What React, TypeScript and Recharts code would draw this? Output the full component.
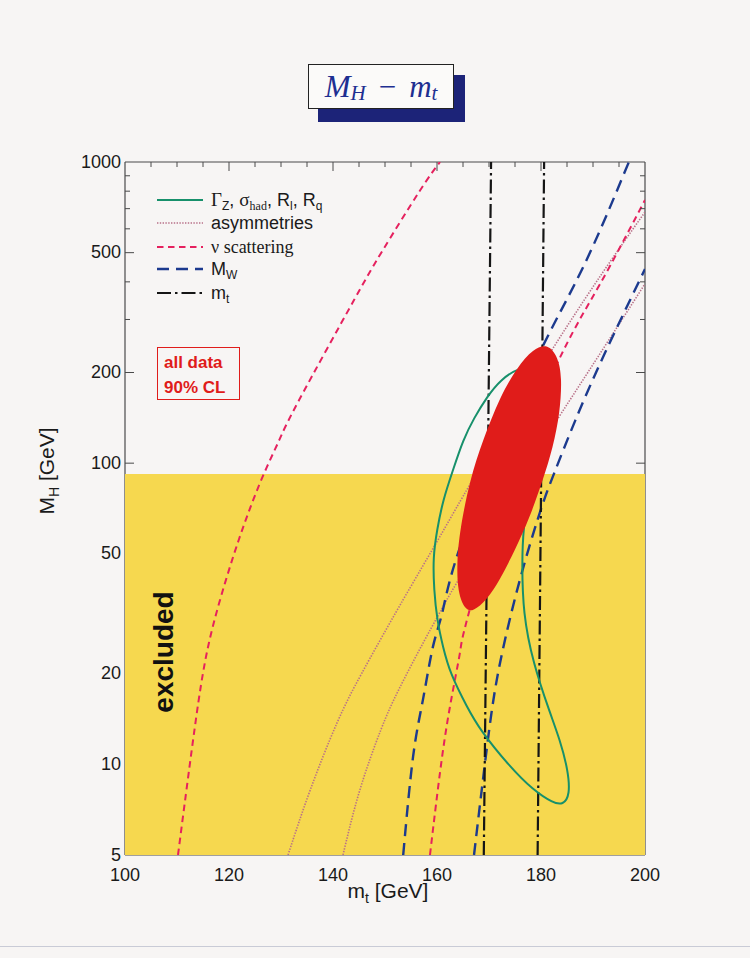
import React from 'react';
import { ScatterChart, Scatter, XAxis, YAxis } from 'recharts';

// ---------- axes ----------
const MT_DOMAIN = [100, 200];
const MH_DOMAIN = [5, 1000];
const X_TICKS = [100, 105, 110, 115, 120, 125, 130, 135, 140, 145, 150, 155, 160, 165, 170, 175, 180, 185, 190, 195, 200];
const X_LABELS = [100, 120, 140, 160, 180, 200];
const Y_TICKS = [5, 10, 20, 50, 100, 200, 300, 400, 500, 600, 700, 800, 900, 1000];
const Y_LABELS = [5, 10, 20, 50, 100, 200, 500, 1000];

// ---------- excluded region (direct search limit) ----------
const LEP_LIMIT = 92;
const EXCL_MT = [100, 200, 200, 100];
const EXCL_MH = [5, 5, LEP_LIMIT, LEP_LIMIT];

// ---------- Gamma_Z, sigma_had, R_l, R_q (closed contour) ----------
const GZ_MT = [175.96, 172.12, 169.62, 167.12, 165.0, 163.08, 161.15, 160.0, 159.23, 159.42, 160.0, 161.15, 162.5, 165.77, 168.27, 174.04, 178.46, 182.31, 184.23, 185.58, 185.19, 183.65, 181.73, 178.46, 176.54, 176.35, 176.54, 177.88, 179.42, 179.81, 178.46];
const GZ_MH = [208.6, 188.9, 165.9, 141.3, 119.4, 94.9, 75.5, 60.0, 48.8, 37.9, 30.2, 24.5, 20.1, 15.5, 13.0, 9.8, 8.22, 7.44, 7.33, 7.91, 9.58, 12.05, 14.8, 21.7, 31.8, 46.6, 60.0, 88, 139, 182, 207];

// ---------- asymmetries ----------
const ASYM1_MT = [131.35, 135.6, 140.75, 145.56, 152.02, 157.15, 161.62, 166.52, 174.94, 183.29, 191.92, 200];
const ASYM1_MH = [5, 8.2, 13.7, 20.1, 31.8, 45.2, 61.4, 86, 150, 256, 431, 682];
const ASYM2_MT = [141.92, 145.15, 149.19, 152.65, 157.65, 161.58, 163.77, 173.35, 183.29, 190.92, 200];
const ASYM2_MH = [5, 8.2, 13.0, 17.7, 25.9, 34.4, 40.0, 75.5, 141, 225, 394];

// ---------- nu scattering ----------
const NU1_MT = [110.19, 113.08, 115.0, 116.87, 119.4, 121.87, 124.15, 126.77, 129.63, 133.48, 144.04, 149.62, 156.54, 160.58];
const NU1_MH = [5, 12.0, 20.1, 28.6, 40.9, 55.6, 71.6, 92.7, 119, 162, 348, 511, 795, 1000];
const NU2_MT = [158.65, 160.58, 162.48, 164.4, 165.92, 173.83, 184.17, 191.27, 200];
const NU2_MH = [5, 9.4, 15.5, 23.4, 30.9, 88, 234, 391, 748];

// ---------- M_W ----------
const MW1_MT = [153.5, 155.4, 157.3, 159.2, 161.0, 163.8, 171.2, 179.8, 188.3, 196.9];
const MW1_MH = [5, 10.6, 16.4, 24.5, 31.8, 48.8, 106, 234, 455, 1000];
const MW2_MT = [167.12, 167.69, 169.85, 172.12, 175.94, 179.98, 182.54, 186.62, 192.29, 200];
const MW2_MH = [5, 6.06, 12.3, 21.7, 41.0, 70.2, 92.7, 139, 232, 441];

// ---------- m_t ----------
const TOP1_MT = [169.0, 170.4];
const TOP1_MH = [5, 1000];
const TOP2_MT = [179.35, 180.6];
const TOP2_MH = [5, 1000];

// ---------- all data 90% CL ----------
const ALL_MT = [181.35, 183.27, 184.04, 183.65, 182.31, 180.38, 177.88, 175.0, 172.1, 169.6, 166.9, 165.4, 164.0, 163.8, 164.4, 166.3, 168.8, 172.1, 175.4, 178.5];
const ALL_MH = [249, 225, 193, 147, 113, 88, 66.3, 51.5, 41.0, 35.2, 32.1, 32.6, 37.1, 46.7, 60.0, 88, 119, 166, 208, 240];

// ---------- styling ----------
const FONT_SANS = '"Liberation Sans", Arial, Helvetica, sans-serif';
const FONT_SERIF = '"Liberation Serif", "Times New Roman", serif';
const C = {
  bg: '#f7f5f4',
  excluded: '#f6d84f',
  green: '#17906b',
  asym: '#b87088',
  nu: '#e5215e',
  mw: '#1c3a8e',
  mt: '#151515',
  all: '#e01c1a',
  axis: '#4a4a4a',
  text: '#1a1a1a',
  title: '#1e2f91',
  shadow: '#1c2378',
};

const STYLE_GZ = { stroke: C.green, strokeWidth: 2, fill: 'none' };
const STYLE_ASYM = { stroke: C.asym, strokeWidth: 1.6, strokeDasharray: '1.4 1.4', fill: 'none' };
const STYLE_NU = { stroke: C.nu, strokeWidth: 2, strokeDasharray: '6.5 4.5', fill: 'none' };
const STYLE_MW = { stroke: C.mw, strokeWidth: 2.4, strokeDasharray: '12 7', fill: 'none' };
const STYLE_MT = { stroke: C.mt, strokeWidth: 2.2, strokeDasharray: '14 4 2.5 4', fill: 'none' };

const toPoints = (mt: number[], mh: number[]) => mt.map((v, i) => ({ mt: v, mh: mh[i] }));

const NoDot = () => <g />;

function TopTick(props: any) {
  const { x, y, payload } = props;
  const v = payload.value;
  if (v <= MT_DOMAIN[0] || v >= MT_DOMAIN[1]) return <g />;
  const len = X_LABELS.includes(v) ? 9 : 5;
  return <line x1={x} x2={x} y1={y} y2={y + len} stroke={C.axis} strokeWidth={1} />;
}

function BottomTick(props: any) {
  const { x, y, payload } = props;
  const v = payload.value;
  if (!X_LABELS.includes(v)) return <g />;
  return (
    <text x={x} y={y + 26} textAnchor="middle" fontSize={18} fontFamily={FONT_SANS} fill={C.text}>
      {v}
    </text>
  );
}

function LeftTick(props: any) {
  const { x, y, payload } = props;
  const v = payload.value;
  const major = Y_LABELS.includes(v);
  const mark = v > LEP_LIMIT && v < MH_DOMAIN[1];
  return (
    <g>
      {mark && <line x1={x} x2={x + (major ? 9 : 5)} y1={y} y2={y} stroke={C.axis} strokeWidth={1} />}
      {major && (
        <text x={x - 4} y={y + 5.5} textAnchor="end" fontSize={18} fontFamily={FONT_SANS} fill={C.text}>
          {v}
        </text>
      )}
    </g>
  );
}

function RightTick(props: any) {
  const { x, y, payload } = props;
  const v = payload.value;
  const major = Y_LABELS.includes(v);
  const mark = v > LEP_LIMIT && v < MH_DOMAIN[1];
  if (!mark) return <g />;
  return <line x1={x} x2={x - (major ? 9 : 5)} y1={y} y2={y} stroke={C.axis} strokeWidth={1} />;
}

const SERIES = [
  { key: 'excl', data: toPoints(EXCL_MT, EXCL_MH), line: { stroke: 'none', fill: C.excluded }, joint: 'linearClosed' },
  { key: 'asym1', data: toPoints(ASYM1_MT, ASYM1_MH), line: STYLE_ASYM, joint: 'natural' },
  { key: 'asym2', data: toPoints(ASYM2_MT, ASYM2_MH), line: STYLE_ASYM, joint: 'natural' },
  { key: 'nu1', data: toPoints(NU1_MT, NU1_MH), line: STYLE_NU, joint: 'natural' },
  { key: 'nu2', data: toPoints(NU2_MT, NU2_MH), line: STYLE_NU, joint: 'natural' },
  { key: 'mw1', data: toPoints(MW1_MT, MW1_MH), line: STYLE_MW, joint: 'natural' },
  { key: 'mw2', data: toPoints(MW2_MT, MW2_MH), line: STYLE_MW, joint: 'natural' },
  { key: 'top1', data: toPoints(TOP1_MT, TOP1_MH), line: STYLE_MT, joint: 'linear' },
  { key: 'top2', data: toPoints(TOP2_MT, TOP2_MH), line: STYLE_MT, joint: 'linear' },
  { key: 'gz', data: toPoints(GZ_MT, GZ_MH), line: STYLE_GZ, joint: 'basisClosed' },
  { key: 'all', data: toPoints(ALL_MT, ALL_MH), line: { stroke: 'none', fill: C.all }, joint: 'basisClosed' },
];

const LEGEND = [
  { key: 'gz', style: STYLE_GZ, top: 200 },
  { key: 'asym', style: STYLE_ASYM, top: 223 },
  { key: 'nu', style: STYLE_NU, top: 247 },
  { key: 'mw', style: STYLE_MW, top: 269 },
  { key: 'mt', style: STYLE_MT, top: 293 },
];

const subStyle: React.CSSProperties = { fontSize: 12, verticalAlign: '-4px', lineHeight: 0 };

function legendLabel(key: string) {
  switch (key) {
    case 'gz':
      return (
        <span>
          <span style={{ fontFamily: FONT_SERIF, fontSize: 19 }}>Γ</span>
          <span style={subStyle}>Z</span>,{' '}
          <span style={{ fontFamily: FONT_SERIF, fontSize: 19 }}>σ</span>
          <span style={{ ...subStyle, fontFamily: FONT_SERIF }}>had</span>, R<span style={subStyle}>l</span>, R
          <span style={subStyle}>q</span>
        </span>
      );
    case 'asym':
      return <span>asymmetries</span>;
    case 'nu':
      return <span style={{ fontFamily: FONT_SERIF, fontSize: 18 }}>ν scattering</span>;
    case 'mw':
      return (
        <span>
          M<span style={subStyle}>W</span>
        </span>
      );
    default:
      return (
        <span>
          m<span style={subStyle}>t</span>
        </span>
      );
  }
}

export default function App() {
  return (
    <div
      style={{
        position: 'absolute',
        left: 0,
        top: 0,
        width: 750,
        height: 958,
        background: C.bg,
        overflow: 'hidden',
        fontFamily: FONT_SANS,
        color: C.text,
      }}
    >
      {/* title */}
      <div style={{ position: 'absolute', left: 318, top: 75, width: 147, height: 47, background: C.shadow }} />
      <div
        style={{
          position: 'absolute',
          left: 308,
          top: 64,
          width: 144,
          height: 43,
          border: '1.5px solid #222',
          background: '#fbfaf9',
          display: 'flex',
          alignItems: 'center',
          justifyContent: 'center',
          fontFamily: FONT_SERIF,
          fontSize: 31,
          color: C.title,
          whiteSpace: 'nowrap',
        }}
      >
        <span style={{ fontStyle: 'italic' }}>M</span>
        <span style={{ fontStyle: 'italic', fontSize: 21, position: 'relative', top: 7 }}>H</span>
        <span style={{ margin: '0 13px' }}>−</span>
        <span style={{ fontStyle: 'italic' }}>m</span>
        <span style={{ fontStyle: 'italic', fontSize: 21, position: 'relative', top: 7 }}>t</span>
      </div>

      <div style={{ position: 'absolute', left: 0, top: 0 }}>
        <ScatterChart width={750} height={958} margin={{ top: 152, right: 95, bottom: 63, left: 65 }}>
          {SERIES.map((s) => (
            <Scatter
              key={s.key}
              data={s.data}
              line={s.line}
              lineType="joint"
              lineJointType={s.joint as any}
              shape={NoDot}
              isAnimationActive={false}
              legendType="none"
            />
          ))}
          <XAxis
            dataKey="mt"
            type="number"
            domain={MT_DOMAIN}
            ticks={X_TICKS}
            interval={0}
            allowDataOverflow
            height={40}
            tickSize={0}
            tickMargin={0}
            tickLine={false}
            axisLine={{ stroke: C.axis, strokeWidth: 1.2 }}
            tick={<BottomTick />}
          />
          <XAxis
            xAxisId="top"
            orientation="top"
            dataKey="mt"
            type="number"
            domain={MT_DOMAIN}
            ticks={X_TICKS}
            interval={0}
            allowDataOverflow
            height={10}
            tickSize={0}
            tickMargin={0}
            tickLine={false}
            axisLine={{ stroke: C.axis, strokeWidth: 1.2 }}
            tick={<TopTick />}
          />
          <YAxis
            dataKey="mh"
            type="number"
            scale="log"
            domain={MH_DOMAIN}
            ticks={Y_TICKS}
            interval={0}
            allowDataOverflow
            width={60}
            tickSize={0}
            tickMargin={0}
            tickLine={false}
            axisLine={{ stroke: C.axis, strokeWidth: 1.2 }}
            tick={<LeftTick />}
          />
          <YAxis
            yAxisId="right"
            orientation="right"
            dataKey="mh"
            type="number"
            scale="log"
            domain={MH_DOMAIN}
            ticks={Y_TICKS}
            interval={0}
            allowDataOverflow
            width={10}
            tickSize={0}
            tickMargin={0}
            tickLine={false}
            axisLine={{ stroke: C.axis, strokeWidth: 1.2 }}
            tick={<RightTick />}
          />
        </ScatterChart>
      </div>

      {/* legend */}
      {LEGEND.map((r) => (
        <div
          key={r.key}
          style={{
            position: 'absolute',
            left: 157,
            top: r.top - 12,
            height: 24,
            display: 'flex',
            alignItems: 'center',
            fontSize: 18,
            whiteSpace: 'nowrap',
          }}
        >
          <svg width={46} height={6} style={{ marginRight: 8 }}>
            <line x1={0} x2={46} y1={3} y2={3} {...(r.style as any)} />
          </svg>
          {legendLabel(r.key)}
        </div>
      ))}

      {/* all data box */}
      <div
        style={{
          position: 'absolute',
          left: 157,
          top: 347,
          width: 83,
          height: 53,
          border: `1.5px solid ${C.all}`,
          color: C.all,
          fontWeight: 'bold',
          fontSize: 17,
          lineHeight: '25px',
          paddingLeft: 6,
          paddingTop: 2,
          boxSizing: 'border-box',
          whiteSpace: 'nowrap',
        }}
      >
        all data
        <br />
        90% CL
      </div>

      {/* excluded */}
      <div
        style={{
          position: 'absolute',
          left: 164,
          top: 652,
          transform: 'translate(-50%, -50%) rotate(-90deg)',
          fontWeight: 'bold',
          fontSize: 28,
          whiteSpace: 'nowrap',
          color: '#111',
        }}
      >
        excluded
      </div>

      {/* axis titles */}
      <div
        style={{
          position: 'absolute',
          left: 47,
          top: 471,
          transform: 'translate(-50%, -50%) rotate(-90deg)',
          fontSize: 21,
          whiteSpace: 'nowrap',
        }}
      >
        M<span style={{ fontSize: 14, verticalAlign: '-5px', lineHeight: 0 }}>H</span> [GeV]
      </div>
      <div
        style={{
          position: 'absolute',
          left: 388,
          top: 891,
          transform: 'translate(-50%, -50%)',
          fontSize: 21,
          whiteSpace: 'nowrap',
        }}
      >
        m<span style={{ fontSize: 14, verticalAlign: '-5px', lineHeight: 0 }}>t</span> [GeV]
      </div>

      {/* scan edge line */}
      <div style={{ position: 'absolute', left: 0, top: 946, width: 750, height: 1, background: '#c9cbd6' }} />
    </div>
  );
}
